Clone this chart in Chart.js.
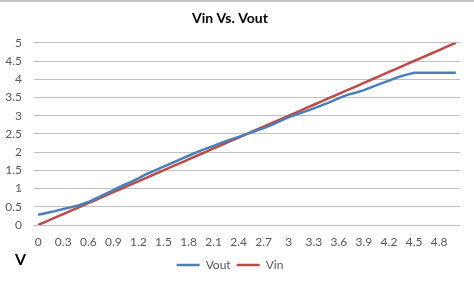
<!DOCTYPE html>
<html>
<head>
<meta charset="utf-8">
<script src="https://cdn.jsdelivr.net/npm/chart.js@4"></script>
<style>
  html, body { margin: 0; padding: 0; }
  body { width: 474px; height: 285px; background: linear-gradient(#c4c4c4 0 2px, #fff 2px); position: relative; overflow: hidden; }
  #wrap { position: absolute; left: 0; top: 0; width: 474px; height: 285px; }
  #vlabel { position: absolute; left: 15px; top: 249px; font: bold 16px Lato, sans-serif; color: #000; }
</style>
</head>
<body>
<div id="wrap"><canvas id="myChart"></canvas></div>
<div id="vlabel">V</div>
<script>
// input voltage steps (category axis)
var categories = ['0', '0.1', '0.2', '0.3', '0.4', '0.5', '0.6', '0.7', '0.8', '0.9',
    '1', '1.1', '1.2', '1.3', '1.4', '1.5', '1.6', '1.7', '1.8', '1.9',
    '2', '2.1', '2.2', '2.3', '2.4', '2.5', '2.6', '2.7', '2.8', '2.9',
    '3', '3.1', '3.2', '3.3', '3.4', '3.5', '3.6', '3.7', '3.8', '3.9',
    '4', '4.1', '4.2', '4.3', '4.4', '4.5', '4.6', '4.7', '4.8', '4.9', '5'];

var vout = [0.28, 0.33, 0.38, 0.44, 0.49, 0.55, 0.63, 0.74, 0.85, 0.96,
    1.07, 1.17, 1.28, 1.40, 1.50, 1.60, 1.70, 1.80, 1.90, 2.00,
    2.09, 2.17, 2.26, 2.34, 2.42, 2.50, 2.58, 2.66, 2.75, 2.86,
    2.96, 3.04, 3.12, 3.20, 3.29, 3.38, 3.48, 3.57, 3.63, 3.70,
    3.79, 3.88, 3.96, 4.05, 4.12, 4.18, 4.18, 4.18, 4.18, 4.18, 4.18];

var vin = [0, 0.1, 0.2, 0.3, 0.4, 0.5, 0.6, 0.7, 0.8, 0.9,
    1, 1.1, 1.2, 1.3, 1.4, 1.5, 1.6, 1.7, 1.8, 1.9,
    2, 2.1, 2.2, 2.3, 2.4, 2.5, 2.6, 2.7, 2.8, 2.9,
    3, 3.1, 3.2, 3.3, 3.4, 3.5, 3.6, 3.7, 3.8, 3.9,
    4, 4.1, 4.2, 4.3, 4.4, 4.5, 4.6, 4.7, 4.8, 4.9, 5];

var yTicks = [0, 0.5, 1, 1.5, 2, 2.5, 3, 3.5, 4, 4.5, 5];

Chart.defaults.font.family = 'Lato, sans-serif';
Chart.defaults.color = '#595959';

var ctx = document.getElementById('myChart').getContext('2d');
var chart = new Chart(ctx, {
    type: 'line',
    data: {
        labels: categories,
        datasets: [{
            label: 'Vout',
            data: vout,
            borderColor: '#4a7ebb',
            backgroundColor: '#4a7ebb',
            borderWidth: 2.5,
            pointRadius: 0,
            tension: 0
        }, {
            label: 'Vin',
            data: vin,
            borderColor: '#be4b48',
            backgroundColor: '#be4b48',
            borderWidth: 2.5,
            pointRadius: 0,
            tension: 0
        }]
    },
    options: {
        responsive: true,
        maintainAspectRatio: false,
        animation: false,
        layout: { padding: { left: 0, right: 14, top: 0, bottom: 4 } },
        plugins: {
            title: {
                display: true,
                text: 'Vin Vs. Vout',
                color: '#000',
                font: { size: 14, weight: 'bold' },
                padding: { top: 10, bottom: 16 }
            },
            legend: {
                position: 'bottom',
                labels: {
                    color: '#595959',
                    font: { size: 12 },
                    usePointStyle: true,
                    pointStyle: 'line',
                    pointStyleWidth: 23,
                    boxWidth: 23,
                    boxHeight: 3,
                    padding: 6
                }
            },
            tooltip: { enabled: false }
        },
        scales: {
            x: {
                offset: true,
                grid: { display: false, drawTicks: false },
                border: { display: false },
                ticks: {
                    autoSkip: false,
                    maxRotation: 0,
                    padding: 10,
                    font: { size: 12 },
                    callback: function (value, index) {
                        return index % 3 === 0 ? categories[index] : '';
                    }
                },
                afterFit: function (scale) { scale.height = 28; }
            },
            y: {
                min: 0,
                max: 5,
                afterBuildTicks: function (scale) {
                    scale.ticks = yTicks.map(function (v) { return { value: v }; });
                },
                grid: { color: '#c0c0c0', lineWidth: 1, drawTicks: false },
                border: { display: false },
                ticks: {
                    padding: 12,
                    font: { size: 12 },
                    callback: function (value) { return String(value); }
                },
                afterFit: function (scale) { scale.width = 34; }
            }
        }
    }
});
</script>
</body>
</html>
